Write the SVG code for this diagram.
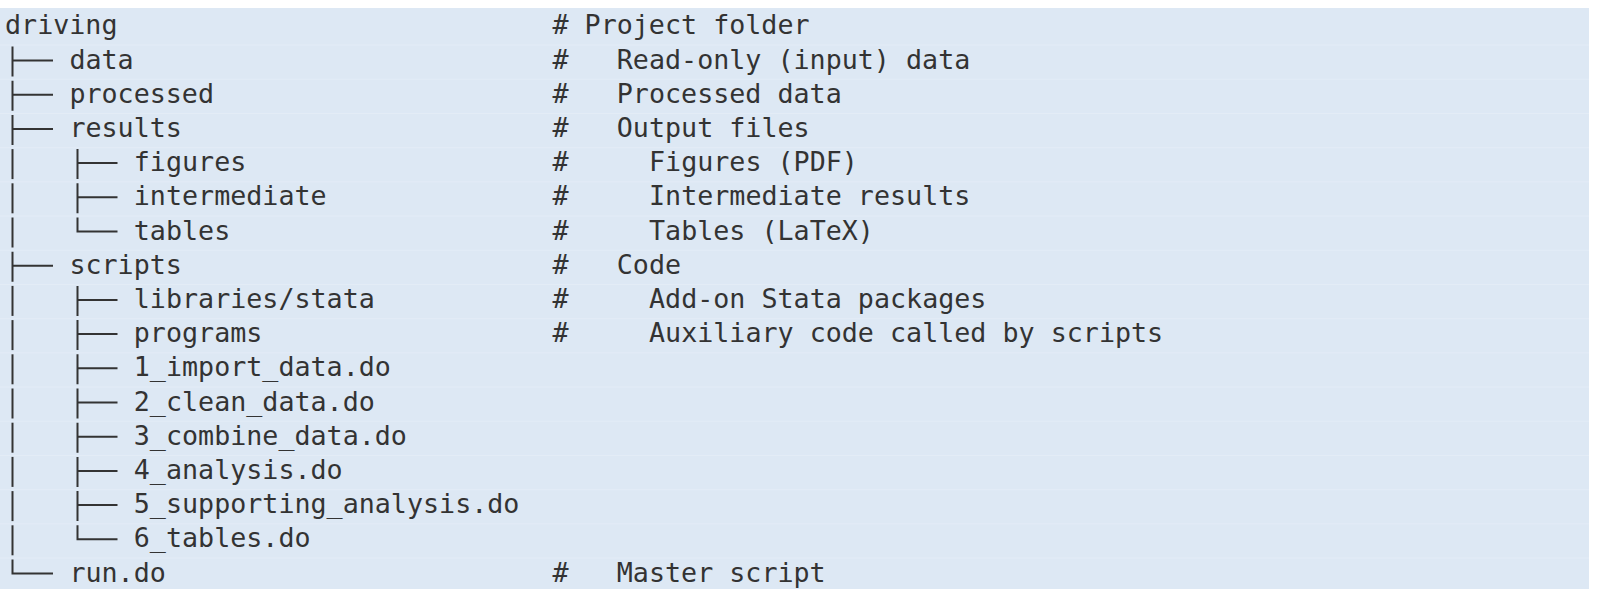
<svg xmlns="http://www.w3.org/2000/svg" width="1607" height="609" viewBox="0 0 1607 609">
<style>
text{font-family:"DejaVu Sans Mono","Liberation Mono",monospace;font-size:26.7px;fill:#333333;}
.sep{stroke:#e3ecf7;stroke-width:1;}
.tree{stroke:#333333;stroke-width:2;fill:none;}
</style>
<rect x="0" y="0" width="1607" height="609" fill="#ffffff"/>
<rect id="panel" x="0" y="8" width="1589" height="581" fill="#dde8f4"/>
<g id="row-separators">
<line class="sep" x1="0" y1="45" x2="1589" y2="45"/>
<line class="sep" x1="0" y1="79.2" x2="1589" y2="79.2"/>
<line class="sep" x1="0" y1="113.4" x2="1589" y2="113.4"/>
<line class="sep" x1="0" y1="147.6" x2="1589" y2="147.6"/>
<line class="sep" x1="0" y1="181.8" x2="1589" y2="181.8"/>
<line class="sep" x1="0" y1="216" x2="1589" y2="216"/>
<line class="sep" x1="0" y1="250.2" x2="1589" y2="250.2"/>
<line class="sep" x1="0" y1="284.4" x2="1589" y2="284.4"/>
<line class="sep" x1="0" y1="318.6" x2="1589" y2="318.6"/>
<line class="sep" x1="0" y1="352.8" x2="1589" y2="352.8"/>
<line class="sep" x1="0" y1="387" x2="1589" y2="387"/>
<line class="sep" x1="0" y1="421.2" x2="1589" y2="421.2"/>
<line class="sep" x1="0" y1="455.4" x2="1589" y2="455.4"/>
<line class="sep" x1="0" y1="489.6" x2="1589" y2="489.6"/>
<line class="sep" x1="0" y1="523.8" x2="1589" y2="523.8"/>
<line class="sep" x1="0" y1="558" x2="1589" y2="558"/>
</g>
<g id="connectors">
<path class="tree" d="M12.5 46.5 V76.5 M12.5 60.5 H53"/>
<path class="tree" d="M12.5 80.7 V110.7 M12.5 94.7 H53"/>
<path class="tree" d="M12.5 114.9 V144.9 M12.5 128.9 H53"/>
<path class="tree" d="M12.5 149.1 V179.1"/>
<path class="tree" d="M12.5 183.3 V213.3"/>
<path class="tree" d="M12.5 217.5 V247.5"/>
<path class="tree" d="M12.5 251.7 V281.7 M12.5 265.7 H53"/>
<path class="tree" d="M12.5 285.9 V315.9"/>
<path class="tree" d="M12.5 320.1 V350.1"/>
<path class="tree" d="M12.5 354.3 V384.3"/>
<path class="tree" d="M12.5 388.5 V418.5"/>
<path class="tree" d="M12.5 422.7 V452.7"/>
<path class="tree" d="M12.5 456.9 V486.9"/>
<path class="tree" d="M12.5 491.1 V521.1"/>
<path class="tree" d="M12.5 525.3 V555.3"/>
<path class="tree" d="M12.5 559.5 V573.5 H53"/>
<path class="tree" d="M77.5 149.1 V179.1 M77.5 163.1 H117.5"/>
<path class="tree" d="M77.5 183.3 V213.3 M77.5 197.3 H117.5"/>
<path class="tree" d="M77.5 217.5 V231.5 H117.5"/>
<path class="tree" d="M77.5 285.9 V315.9 M77.5 299.9 H117.5"/>
<path class="tree" d="M77.5 320.1 V350.1 M77.5 334.1 H117.5"/>
<path class="tree" d="M77.5 354.3 V384.3 M77.5 368.3 H117.5"/>
<path class="tree" d="M77.5 388.5 V418.5 M77.5 402.5 H117.5"/>
<path class="tree" d="M77.5 422.7 V452.7 M77.5 436.7 H117.5"/>
<path class="tree" d="M77.5 456.9 V486.9 M77.5 470.9 H117.5"/>
<path class="tree" d="M77.5 491.1 V521.1 M77.5 505.1 H117.5"/>
<path class="tree" d="M77.5 525.3 V539.3 H117.5"/>
</g>
<g id="node-driving"><text x="5" y="34.3">driving</text><text x="552.4" y="34.3">#</text><text x="584.6" y="34.3">Project folder</text></g>
<g id="node-data"><text x="69.4" y="68.5">data</text><text x="552.4" y="68.5">#</text><text x="616.8" y="68.5">Read-only (input) data</text></g>
<g id="node-processed"><text x="69.4" y="102.7">processed</text><text x="552.4" y="102.7">#</text><text x="616.8" y="102.7">Processed data</text></g>
<g id="node-results"><text x="69.4" y="136.9">results</text><text x="552.4" y="136.9">#</text><text x="616.8" y="136.9">Output files</text></g>
<g id="node-figures"><text x="133.8" y="171.1">figures</text><text x="552.4" y="171.1">#</text><text x="649" y="171.1">Figures (PDF)</text></g>
<g id="node-intermediate"><text x="133.8" y="205.3">intermediate</text><text x="552.4" y="205.3">#</text><text x="649" y="205.3">Intermediate results</text></g>
<g id="node-tables"><text x="133.8" y="239.5">tables</text><text x="552.4" y="239.5">#</text><text x="649" y="239.5">Tables (LaTeX)</text></g>
<g id="node-scripts"><text x="69.4" y="273.7">scripts</text><text x="552.4" y="273.7">#</text><text x="616.8" y="273.7">Code</text></g>
<g id="node-libraries"><text x="133.8" y="307.9">libraries/stata</text><text x="552.4" y="307.9">#</text><text x="649" y="307.9">Add-on Stata packages</text></g>
<g id="node-programs"><text x="133.8" y="342.1">programs</text><text x="552.4" y="342.1">#</text><text x="649" y="342.1">Auxiliary code called by scripts</text></g>
<g id="node-import"><text x="133.8" y="376.3">1_import_data.do</text></g>
<g id="node-clean"><text x="133.8" y="410.5">2_clean_data.do</text></g>
<g id="node-combine"><text x="133.8" y="444.7">3_combine_data.do</text></g>
<g id="node-analysis"><text x="133.8" y="478.9">4_analysis.do</text></g>
<g id="node-supporting"><text x="133.8" y="513.1">5_supporting_analysis.do</text></g>
<g id="node-tables-do"><text x="133.8" y="547.3">6_tables.do</text></g>
<g id="node-run"><text x="69.4" y="581.5">run.do</text><text x="552.4" y="581.5">#</text><text x="616.8" y="581.5">Master script</text></g>
</svg>
